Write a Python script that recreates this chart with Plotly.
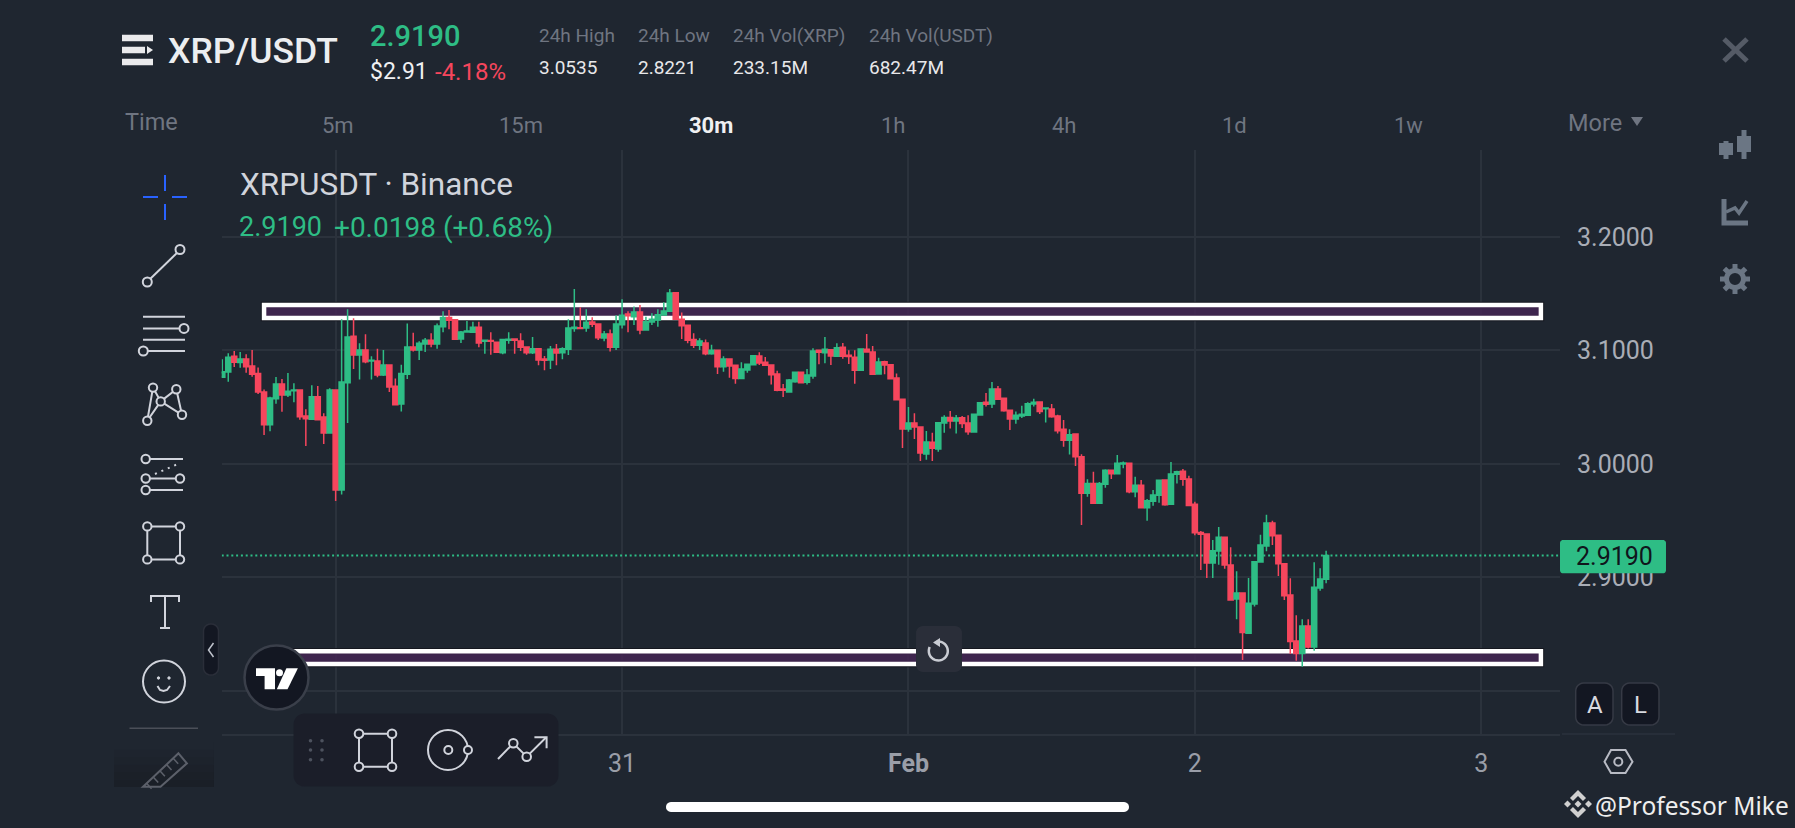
import numpy as np
import pandas as pd
import plotly.graph_objects as go

W, H = 1795, 828
BG = "#1f2630"
GRID = "#2b323c"
GREEN = "#2ebd85"
RED = "#f6465d"
GRAY = "#6f7581"
ICON = "#d1d4dc"
SANS = "Roboto"

# 30 minute candles, first one is 29 Jan 14:30
first_candle = "2025-01-29 14:30"

open_ = [3.0762,3.0809,3.0948,3.0892,3.0924,3.0862,3.0795,3.0633,3.0345,3.0574,3.0703,3.0606,3.0645,3.0651,3.0421,3.0392,3.0592,3.0412,3.0271,
         3.0651,2.9769,3.0715,3.1124,3.0959,3.1003,3.0906,3.0906,3.0783,3.0871,3.0683,3.0527,3.0789,3.1030,3.1003,3.1056,3.1089,3.1056,3.1209,3.1289,3.1271,3.1100,3.1162,3.1159,3.1203,3.1080,3.1086,3.1071,3.0980,3.1089,3.1100,3.1083,3.1030,3.0980,3.1015,3.0924,3.0915,3.1009,3.0980,3.1009,3.1192,3.1200,3.1197,3.1250,3.1233,3.1109,3.1145,3.1027,
         3.1227,3.1321,3.1297,3.1339,3.1180,3.1250,3.1268,3.1312,3.1344,3.1509,3.1274,3.1221,3.1095,3.1045,3.1065,3.0971,3.1000,3.0856,3.0924,3.0868,3.0753,3.0827,3.0874,3.0951,3.0895,3.0871,3.0792,3.0659,3.0633,3.0724,3.0806,3.0718,3.0774,3.1000,3.0980,3.1006,3.0948,3.1027,3.0956,3.0939,3.0824,3.1009,3.0986,3.0792,3.0900,3.0874,3.0756,3.0568,
         3.0307,3.0359,3.0324,3.0086,3.0189,3.0130,3.0359,3.0409,3.0377,3.0406,3.0359,3.0280,3.0430,3.0542,3.0527,3.0659,3.0577,3.0471,3.0395,3.0421,3.0427,3.0527,3.0545,3.0486,3.0483,3.0421,3.0304,3.0207,3.0263,3.0063,2.9739,2.9827,2.9651,2.9819,2.9942,2.9913,2.9998,3.0004,2.9754,2.9810,2.9613,2.9669,2.9722,2.9857,2.9642,2.9907,2.9933,2.9866,
         2.9642,2.9395,2.9381,2.9125,2.9230,2.9351,2.9107,2.8808,2.8861,2.8505,2.8764,2.9134,2.9275,2.9478,2.9369,2.9119,2.8843,2.8438,2.8326,2.8570,2.8385,2.8905,2.8981]
high = [3.0921,3.0974,3.0995,3.0986,3.0965,3.1003,3.0850,3.0656,3.0592,3.0765,3.0747,3.0800,3.0709,3.0656,3.0480,3.0692,3.0686,3.0445,3.0665,
        3.0651,3.1274,3.1362,3.1283,3.1062,3.1142,3.0948,3.1015,3.1003,3.0874,3.0753,3.0874,3.1236,3.1156,3.1080,3.1109,3.1150,3.1236,3.1344,3.1356,3.1277,3.1171,3.1259,3.1253,3.1253,3.1095,3.1159,3.1074,3.1100,3.1159,3.1106,3.1150,3.1033,3.1118,3.1018,3.0951,3.1039,3.1056,3.1027,3.1274,3.1541,3.1380,3.1362,3.1292,3.1236,3.1171,3.1183,3.1309,
        3.1450,3.1344,3.1386,3.1400,3.1297,3.1327,3.1362,3.1424,3.1541,3.1512,3.1333,3.1224,3.1150,3.1106,3.1095,3.1050,3.1000,3.0948,3.0927,3.0871,3.0895,3.0880,3.0959,3.0983,3.0942,3.0874,3.0821,3.0703,3.0747,3.0809,3.0809,3.0836,3.1018,3.1003,3.1118,3.1009,3.1062,3.1065,3.1000,3.1000,3.1018,3.1145,3.1039,3.0936,3.0909,3.0877,3.0795,3.0568,
        3.0501,3.0445,3.0327,3.0289,3.0274,3.0365,3.0427,3.0465,3.0430,3.0421,3.0427,3.0439,3.0542,3.0624,3.0721,3.0686,3.0580,3.0474,3.0462,3.0512,3.0542,3.0574,3.0548,3.0498,3.0527,3.0433,3.0386,3.0304,3.0268,3.0083,2.9863,2.9930,2.9839,2.9951,2.9942,3.0077,3.0021,3.0010,2.9886,2.9857,2.9689,2.9769,2.9857,2.9863,3.0016,2.9939,2.9954,2.9895,
        2.9666,2.9407,2.9381,2.9328,2.9442,2.9354,2.9263,2.9052,2.8861,2.8993,2.9140,2.9375,2.9551,2.9498,2.9372,2.9122,2.8990,2.8664,2.8629,2.8629,2.9131,2.9078,2.9233]
low = [3.0762,3.0724,3.0853,3.0847,3.0803,3.0768,3.0615,3.0254,3.0286,3.0530,3.0459,3.0589,3.0542,3.0389,3.0157,3.0389,3.0383,3.0174,3.0271,
       2.9672,2.9728,3.0359,3.0836,3.0744,3.0886,3.0744,3.0762,3.0774,3.0633,3.0515,3.0462,3.0747,3.0989,3.0915,3.0986,3.1027,3.1015,3.1159,3.1186,3.1092,3.1065,3.1162,3.1153,3.1027,3.0971,3.0962,3.0983,3.0965,3.1059,3.0971,3.0995,3.0962,3.0968,3.0868,3.0824,3.0836,3.0868,3.0921,3.0959,3.1165,3.1186,3.1165,3.1206,3.1092,3.1080,3.0989,3.1003,
       3.1192,3.1159,3.1224,3.1142,3.1180,3.1224,3.1209,3.1312,3.1339,3.1268,3.1100,3.1062,3.1021,3.1003,3.0956,3.0962,3.0792,3.0812,3.0759,3.0706,3.0753,3.0803,3.0868,3.0871,3.0865,3.0700,3.0639,3.0589,3.0627,3.0715,3.0715,3.0700,3.0750,3.0877,3.0886,3.0871,3.0942,3.0927,3.0880,3.0706,3.0824,3.0983,3.0783,3.0792,3.0789,3.0750,3.0565,3.0139,
       3.0283,3.0218,3.0025,3.0036,3.0025,3.0107,3.0274,3.0310,3.0268,3.0315,3.0257,3.0274,3.0424,3.0504,3.0492,3.0568,3.0459,3.0298,3.0354,3.0403,3.0421,3.0506,3.0439,3.0365,3.0406,3.0268,3.0151,3.0081,2.9981,2.9460,2.9710,2.9651,2.9651,2.9789,2.9866,2.9907,2.9960,2.9739,2.9704,2.9610,2.9498,2.9630,2.9657,2.9630,2.9642,2.9827,2.9807,2.9625,
       2.9369,2.9064,2.8993,2.8993,2.9110,2.9075,2.8793,2.8629,2.8270,2.8499,2.8741,2.9134,2.9228,2.9284,2.9011,2.8799,2.8323,2.8264,2.8211,2.8370,2.8352,2.8881,2.8946]
close = [3.0812,3.0939,3.0895,3.0924,3.0856,3.0789,3.0633,3.0345,3.0580,3.0703,3.0606,3.0639,3.0651,3.0415,3.0398,3.0592,3.0389,3.0271,3.0651,
         2.9769,3.0721,3.1118,3.0959,3.1003,3.0900,3.0912,3.0783,3.0871,3.0677,3.0521,3.0795,3.1030,3.1003,3.1062,3.1089,3.1056,3.1215,3.1289,3.1265,3.1097,3.1162,3.1171,3.1203,3.1065,3.1089,3.1080,3.0983,3.1095,3.1097,3.1089,3.1027,3.0980,3.1015,3.0915,3.0912,3.1009,3.0977,3.1015,3.1197,3.1203,3.1192,3.1247,3.1230,3.1112,3.1145,3.1027,3.1233,
         3.1309,3.1306,3.1339,3.1180,3.1253,3.1274,3.1315,3.1347,3.1506,3.1274,3.1218,3.1089,3.1045,3.1083,3.0971,3.1000,3.0856,3.0924,3.0862,3.0753,3.0836,3.0877,3.0953,3.0889,3.0868,3.0786,3.0648,3.0648,3.0739,3.0806,3.0715,3.0783,3.0995,3.0983,3.1009,3.0951,3.1024,3.0948,3.0945,3.0824,3.1012,3.0986,3.0789,3.0898,3.0871,3.0750,3.0565,3.0307,
         3.0359,3.0324,3.0095,3.0192,3.0136,3.0362,3.0409,3.0377,3.0403,3.0356,3.0283,3.0436,3.0539,3.0524,3.0659,3.0568,3.0468,3.0395,3.0427,3.0436,3.0530,3.0542,3.0462,3.0492,3.0415,3.0292,3.0207,3.0257,3.0063,2.9739,2.9827,2.9651,2.9827,2.9942,2.9913,3.0004,3.0007,2.9754,2.9810,2.9613,2.9674,2.9725,2.9854,2.9639,2.9910,2.9930,2.9863,2.9633,
         2.9392,2.9378,2.9125,2.9233,2.9351,2.9107,2.8799,2.8861,2.8511,2.8770,2.9137,2.9284,2.9478,2.9366,2.9119,2.8837,2.8432,2.8326,2.8570,2.8385,2.8911,2.8984,2.9190]
candle_time = pd.date_range(first_candle, periods=len(close), freq="30min")

last_price = 2.9190

y_ticks = [3.2, 3.1, 3.0, 2.9, 2.8]
y_labels = ["3.2000", "3.1000", "3.0000", "2.9000", ""]
x_ticks = ["2025-01-30", "2025-01-31", "2025-02-01", "2025-02-02", "2025-02-03"]
x_labels = ["", "31", "<b>Feb</b>", "2", "3"]
x_view = ["2025-01-29 14:27", "2025-02-03 06:36"]

# the two hand drawn boxes
zone_start = "2025-01-29 18:00"
zone_end = "2025-02-03 05:00"
zone_low = [3.1286, 2.8235]
zone_high = [3.1400, 2.8347]

timeframes = ["5m", "15m", "30m", "1h", "4h", "1d", "1w"]
timeframe_x = [338, 521, 711, 893, 1064, 1234, 1408]
stat_names = ["24h High", "24h Low", "24h Vol(XRP)", "24h Vol(USDT)"]
stat_values = ["3.0535", "2.8221", "233.15M", "682.47M"]
stat_x = [540, 639, 734, 870]


fig = go.Figure()
fig.add_trace(go.Candlestick(
    x=candle_time, open=open_, high=high, low=low, close=close,
    increasing=dict(line=dict(color=GREEN, width=1.5), fillcolor=GREEN),
    decreasing=dict(line=dict(color=RED, width=1.5), fillcolor=RED),
    whiskerwidth=0, hoverinfo="skip",
))


# everything around the chart is placed in screen pixels
def px(x):
    return x / W


def py(y):
    return 1 - y / H


def path(pts, color=ICON, width=2, fill=None, closed=False, layer="above"):
    d = "M " + " L ".join(f"{px(x):.5f},{py(y):.5f}" for x, y in pts)
    if closed:
        d += " Z"
    fig.add_shape(type="path", path=d, xref="paper", yref="paper", layer=layer,
                  line=dict(color=color, width=width), fillcolor=fill)


def circle(cx, cy, r, color=ICON, width=2, fill=BG):
    fig.add_shape(type="circle", xref="paper", yref="paper",
                  x0=px(cx - r), x1=px(cx + r), y0=py(cy + r), y1=py(cy - r),
                  line=dict(color=color, width=width), fillcolor=fill, layer="above")


def box(x0, y0, x1, y1, r=0, fill=BG, color=None, width=0):
    # rounded rectangle, corners made from short arcs
    pts = []
    corners = [(x1 - r, y0 + r, -90), (x1 - r, y1 - r, 0), (x0 + r, y1 - r, 90), (x0 + r, y0 + r, 180)]
    for cx, cy, a in corners:
        for t in np.radians(np.linspace(a, a + 90, 7)):
            pts.append((cx + r * np.cos(t), cy + r * np.sin(t)))
    path(pts, color=color or fill, width=width, fill=fill, closed=True)


def text(x, y, s, size=18, color="#e8e8ea", anchor="left", family=SANS, weight=400):
    if anchor == "left":
        x -= 2  # annotations sit a little in from their anchor
    fig.add_annotation(x=px(x), y=py(y), xref="paper", yref="paper", text=s, showarrow=False,
                       xanchor=anchor, yanchor="middle", borderpad=0,
                       font=dict(family=family, size=size, color=color, weight=weight))


# zones and last price line sit on the chart axes, under the candles
for lo, hi in zip(zone_low, zone_high):
    fig.add_shape(type="rect", x0=zone_start, x1=zone_end, y0=lo, y1=hi, layer="between",
                  line=dict(color="#15171f", width=6.5), fillcolor="rgba(0,0,0,0)")
    fig.add_shape(type="rect", x0=zone_start, x1=zone_end, y0=lo, y1=hi, layer="between",
                  line=dict(color="#ffffff", width=4.5), fillcolor="rgba(68,38,84,0.85)")
fig.add_shape(type="line", x0=x_view[0], x1=x_view[1], y0=last_price, y1=last_price, layer="between",
              line=dict(color=GREEN, width=2, dash="2px,2.8px"))

# bottom axis piece on the right
path([(1562, 734), (1675, 734)], color=GRID, width=1.5)

# header
for y in (38, 50, 62):
    path([(122, y), (145 if y == 50 else 153, y)], color="#eaeaec", width=6.5)
path([(147, 46), (153, 50), (147, 54)], color="#eaeaec", width=0, fill="#eaeaec", closed=True)
text(168.5, 51, "XRP/USDT", size=35.5, color="#eceef0", weight=500)
text(371, 36, "2.9190", size=29, color=GREEN, weight=500)
text(371, 72, "$2.91", size=23, color="#f0f0f2")
text(436, 72, "-4.18%", size=24, color=RED)
for x, name, val in zip(stat_x, stat_names, stat_values):
    text(x, 36, name, size=19, color=GRAY)
    text(x, 67, val, size=19)

text(126, 122, "Time", size=23.5, color=GRAY)
for x, tf in zip(timeframe_x, timeframes):
    if tf == "30m":
        text(x, 125, tf, size=22, color="#f0f0f2", anchor="center", weight=700)
    else:
        text(x, 125, tf, size=22, color=GRAY, anchor="center")
text(1569, 123, "More", size=23.5, color=GRAY)
path([(1631, 117), (1643, 117), (1637, 126)], color=GRAY, width=0, fill=GRAY, closed=True)

text(241, 184, "XRPUSDT · Binance", size=31.5, color="#d1d4dc")
text(239.5, 227, "2.9190", size=27, color=GREEN)
text(335, 227, "+0.0198 (+0.68%)", size=28, color=GREEN)

# close cross and right hand icons
path([(1724, 39), (1747, 61)], color="#555b66", width=5)
path([(1747, 39), (1724, 61)], color="#555b66", width=5)
STEEL = "#6b7684"
path([(1726, 141), (1726, 159)], color=STEEL, width=5)
path([(1719, 143), (1733, 143), (1733, 155), (1719, 155)], color=STEEL, width=0, fill=STEEL, closed=True)
path([(1744, 130), (1744, 159)], color=STEEL, width=5)
path([(1737, 136), (1751, 136), (1751, 152), (1737, 152)], color=STEEL, width=0, fill=STEEL, closed=True)
path([(1724, 199), (1724, 223), (1748, 223)], color=STEEL, width=5)
path([(1726, 212), (1735, 208), (1739, 213), (1747, 201)], color=STEEL, width=3.5)
for a in np.radians(np.arange(0, 360, 45)):
    path([(1735 + 9 * np.cos(a), 279 + 9 * np.sin(a)), (1735 + 15 * np.cos(a), 279 + 15 * np.sin(a))],
         color=STEEL, width=5)
circle(1735, 279, 8.5, color=STEEL, width=5, fill=BG)

# drawing tools down the left
BLUE = "#2962ff"
path([(143, 197), (158, 197)], color=BLUE, width=2)
path([(172, 197), (187, 197)], color=BLUE, width=2)
path([(165, 175), (165, 191)], color=BLUE, width=2)
path([(165, 204), (165, 220)], color=BLUE, width=2)

path([(147, 282), (180, 250)])
circle(180, 249.5, 4.5)
circle(147.3, 282, 4.5)

for y in (316.7, 328.4, 339.8, 351):
    path([(143, y), (185, y)])
circle(184, 328.4, 4.5)
circle(143.3, 351, 4.5)

path([(147.3, 420.7), (153, 387.6), (160.7, 401.4), (147.3, 420.7)])
path([(160.7, 401.4), (176.3, 389.3), (182, 414.8), (160.7, 401.4)])
for x, y in [(153, 387.6), (176.3, 389.3), (160.7, 401.4), (147.3, 420.7), (182, 414.8)]:
    circle(x, y, 4.2)

path([(146, 459), (183, 459)])
path([(146, 478.5), (180, 478.5)])
path([(146, 490), (183, 490)])
fig.add_shape(type="line", xref="paper", yref="paper", x0=px(155), x1=px(180), y0=py(474), y1=py(463),
              line=dict(color=ICON, width=2, dash="2px,5px"), layer="above")
for x, y in [(145.7, 459), (145.7, 478.5), (180, 478.5), (145.7, 490)]:
    circle(x, y, 4.2)

path([(147.3, 526.4), (180, 526.4), (180, 559.4), (147.3, 559.4)], closed=True)
for x, y in [(147.3, 526.4), (180, 526.4), (147.3, 559.4), (180, 559.4)]:
    circle(x, y, 4.2)

path([(151, 602), (151, 596), (179, 596), (179, 602)])
path([(165, 596), (165, 628)])
path([(160, 628), (170, 628)])

circle(164, 681.5, 21)
circle(158.5, 678, 1.2, fill=ICON, width=1)
circle(169, 678, 1.2, fill=ICON, width=1)
path([(157.5, 686), (160, 690), (163.5, 691), (167, 690), (170, 686)])

path([(129.5, 728.3), (198, 728.3)], color="#4b4f58", width=1.5)
# ruler panel fades into the background at its top
for i, shade in enumerate(["#1f2630", "#1e242e", "#1d232c", "#1c212a", "#1b2028", "#1a1f27"]):
    box(114, 742 + i * 7.5, 214, 749.5 + i * 7.5, fill=shade)
RULER = "#5c606a"
path([(178.5, 753.3), (186.9, 763.3), (160.5, 786.7), (143, 786.7)], color=RULER, width=2, closed=True)
for t in np.linspace(0.15, 0.9, 5):
    x0, y0 = 178.5 + (143 - 178.5) * t, 753.3 + (786.7 - 753.3) * t
    path([(x0, y0), (x0 + 5, y0 + 5.5)], color=RULER, width=1.5)

box(203.5, 624, 218.5, 675, r=7, fill="#131722", color="#2a2e39", width=1.5)
path([(213.5, 643), (208.5, 650), (213.5, 657)], color="#bfc3cc", width=1.5)

# tradingview badge
circle(276.5, 677.5, 32, color="#3a3f4a", width=2.5, fill="#131722")
path([(256, 668.3), (275, 668.3), (275, 689.3), (264.6, 689.3), (264.6, 676), (256, 676)],
     color="#ffffff", width=0, fill="#ffffff", closed=True)
circle(279.5, 672.7, 3.5, color="#ffffff", width=0, fill="#ffffff")
path([(286.4, 668.3), (297.9, 668.3), (287.5, 689.3), (276.8, 689.3)], color="#ffffff", width=0, fill="#ffffff", closed=True)

# floating toolbar
box(293.5, 713.5, 558.5, 786.5, r=11, fill="#1b1e29")
for x in (310.5, 322):
    for y in (740.7, 750, 759.7):
        circle(x, y, 1.8, color="#4d525e", width=0, fill="#4d525e")
path([(359, 733.7), (392, 733.7), (392, 766.7), (359, 766.7)], closed=True)
for x, y in [(359, 733.7), (392, 733.7), (359, 766.7), (392, 766.7)]:
    circle(x, y, 4.3, fill="#1b1e29")
circle(448, 750, 20, fill="#1b1e29")
circle(448.3, 750, 4, fill="#1b1e29")
circle(468, 750, 4, fill="#1b1e29")
path([(498, 759), (513.3, 743.3), (526.7, 756.7), (546, 737.5)])
path([(534.4, 737.3), (546.6, 737.3), (546.6, 748.3)])
circle(513.3, 743.3, 4.3, fill="#1b1e29")
circle(526.7, 756.7, 4.3, fill="#1b1e29")

# reset button
box(916, 626, 962, 672, r=7, fill="#2a2e39")
arc = np.radians(np.linspace(-100, 205, 30))
path([(938.3 + 9.5 * np.cos(a), 651 + 9.5 * np.sin(a)) for a in arc], color="#c9ccd3", width=2.5)
path([(933, 642.5), (940, 638), (940, 647)], color="#c9ccd3", width=0, fill="#c9ccd3", closed=True)

# last price tag
box(1560, 540, 1666, 573.3, r=3, fill=GREEN)
text(1577, 556.5, "2.9190", size=25, color="#10151c")

# auto / log buttons and settings
box(1575.7, 683, 1613, 725, r=8, fill="#131722", color="#363a45", width=1.5)
box(1621.7, 683, 1659, 725, r=8, fill="#131722", color="#363a45", width=1.5)
text(1594.5, 705, "A", size=24, color="#d8dae0", anchor="center")
text(1640.5, 705, "L", size=24, color="#d8dae0", anchor="center")
path([(1604.5, 761.7), (1611, 750), (1625.5, 750), (1632.5, 761.7), (1625.5, 773), (1611, 773)], color="#b8bbc4", closed=True)
circle(1618.3, 761.7, 4, color="#b8bbc4")

# watermark and home bar
LOGO = "#d0d0d0"
path([(1578, 790), (1586, 798), (1583, 801), (1578, 796), (1573, 801), (1570, 798)], color=LOGO, width=0, fill=LOGO, closed=True)
path([(1578, 818), (1586, 810), (1583, 807), (1578, 812), (1573, 807), (1570, 810)], color=LOGO, width=0, fill=LOGO, closed=True)
for cx in (1567.5, 1578, 1588.5):
    path([(cx, 800.5), (cx + 3.5, 804), (cx, 807.5), (cx - 3.5, 804)], color=LOGO, width=0, fill=LOGO, closed=True)
text(1596, 805, "@Professor Mike", size=24.5, color="#eeeeee", family="Noto Sans")
box(666, 802, 1129, 812, r=5, fill="#ffffff")

fig.update_layout(
    width=W, height=H, margin=dict(l=0, r=0, t=0, b=0),
    paper_bgcolor=BG, plot_bgcolor=BG, showlegend=False, hovermode=False,
    boxgap=0.15, boxgroupgap=0,
    xaxis=dict(
        domain=[221.7 / W, 1560 / W], range=x_view,
        rangeslider_visible=False, tickmode="array", tickvals=x_ticks, ticktext=x_labels,
        tickfont=dict(family=SANS, size=25, color="#9a9ea8"), showgrid=True, gridcolor=GRID, gridwidth=1.5,
        showline=True, linecolor=GRID, linewidth=1.5, zeroline=False, ticks="", ticklabelstandoff=6,
    ),
    yaxis=dict(
        domain=[1 - 734 / H, 1 - 150 / H], range=[2.7617, 3.2767], side="right",
        tickmode="array", tickvals=y_ticks, ticktext=y_labels,
        tickfont=dict(family=SANS, size=25, color="#a9adb6"), showgrid=True, gridcolor=GRID, gridwidth=1.5,
        zeroline=False, ticks="", ticklabelstandoff=16,
    ),
)

fig.write_html("out.html", config={"displayModeBar": False},
               post_script="document.body.style.margin='0';document.body.style.overflow='hidden';")
